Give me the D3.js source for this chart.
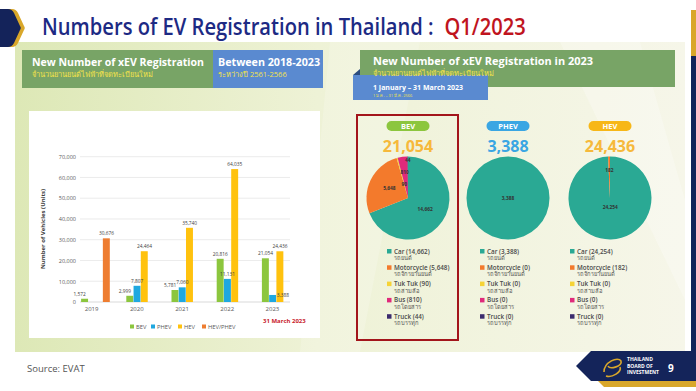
<!DOCTYPE html>
<html>
<head>
<meta charset="utf-8">
<script src="https://cdn.jsdelivr.net/npm/d3@7"></script>
<style>
  body { margin: 0; background: #fff; }
  svg { display: block; font-family: "Open Sans", "Noto Sans", sans-serif; }
</style>
</head>
<body>
<div id="chart"></div>
<script>
    // ---------- data ----------
    var years = ["2019", "2020", "2021", "2022", "2023"];
    var seriesNames = ["BEV", "PHEV", "HEV", "HEV/PHEV"];
    var bevByYear = [1572, 2999, 5781, 20816, 21054];
    var phevByYear = [0, 7807, 7060, 11131, 3388];
    var hevByYear = [0, 24464, 35740, 64035, 24436];
    var hevPhevByYear = [30676, 0, 0, 0, 0];
    var yTicks = [0, 10000, 20000, 30000, 40000, 50000, 60000, 70000];

    var pieTypes = ["BEV", "PHEV", "HEV"];
    var pieTotals = [21054, 3388, 24436];
    var vehicleTypes = ["Car", "Motorcycle", "Tuk Tuk", "Bus", "Truck"];
    var vehicleTypesThai = ["รถยนต์", "รถจักรยานยนต์", "รถสามล้อ", "รถโดยสาร", "รถบรรทุก"];
    var bevVehicles = [14662, 5648, 90, 810, 44];
    var phevVehicles = [3388, 0, 0, 0, 0];
    var hevVehicles = [24254, 182, 0, 0, 0];

    var seriesColors = {"BEV": "#8cc63e", "PHEV": "#1fa8e0", "HEV": "#ffc20e", "HEV/PHEV": "#ee7d31"};
    var vehicleColors = ["#2aa994", "#f37a2c", "#f6d336", "#e02a7b", "#3b2b6e"];
    var pieColors = {"BEV": "#8cc63e", "PHEV": "#3aa6e3", "HEV": "#f7b718"};
    var totalColors = {"BEV": "#f6b93b", "PHEV": "#3aa6e3", "HEV": "#f6b93b"};

    var width = 696, height = 391;
    var fmt = d3.format(",");

    var svg = d3.select("#chart").append("svg")
        .attr("width", width).attr("height", height);

    var defs = svg.append("defs");
    var grad = defs.append("linearGradient").attr("id", "panelGrad")
        .attr("x1", 0).attr("y1", 0).attr("x2", 1).attr("y2", 0);
    grad.append("stop").attr("offset", "0%").attr("stop-color", "#dde8b6");
    grad.append("stop").attr("offset", "45%").attr("stop-color", "#eef2d6");
    grad.append("stop").attr("offset", "100%").attr("stop-color", "#f6f6e9");

    // ---------- slide frame ----------
    svg.append("rect").attr("x", 15).attr("y", 42).attr("width", 670).attr("height", 310)
        .attr("fill", "url(#panelGrad)");
    // soft diagonal light bands
    svg.append("path").attr("d", "M330,42 L420,42 L360,352 L300,352 Z").attr("fill", "#ffffff").attr("opacity", 0.18);
    svg.append("path").attr("d", "M560,42 L640,42 L685,200 L685,300 Z").attr("fill", "#ffffff").attr("opacity", 0.25);

    // right navy edge
    svg.append("rect").attr("x", 691).attr("y", 10).attr("width", 5).attr("height", 46).attr("fill", "#d9a72a");
    svg.append("rect").attr("x", 691).attr("y", 56).attr("width", 5).attr("height", 296).attr("fill", "#12245a");

    // chevron marker
    svg.append("path")
        .attr("d", "M-6,9 L12,9 Q16,9 18,13 L24,26 Q25.5,28 24,30 L18,43 Q16,47 12,47 L-6,47 Z")
        .attr("fill", "#d9a72a");
    svg.append("path")
        .attr("d", "M-6,9 L8,9 Q12,9 14,13 L20,26 Q21.5,28 20,30 L14,43 Q12,47 8,47 L-6,47 Z")
        .attr("fill", "#14235a");

    // title: drawn at natural width, then squeezed horizontally to the slide's narrow face
    var titleG = svg.append("g");
    var title = titleG.append("text").attr("x", 0).attr("y", 0)
        .attr("font-size", 24).attr("font-weight", 600).attr("fill", "#1d2a84");
    title.append("tspan").text("Numbers of EV Registration in Thailand :");
    title.append("tspan").attr("dx", 13).attr("fill", "#c0141e").text("Q1/2023");
    var titleW = title.node().getComputedTextLength() + 13;
    titleG.attr("transform", "translate(42,35) scale(" + (484 / titleW) + ",1)");

    // ---------- headers ----------
    svg.append("rect").attr("x", 22).attr("y", 50).attr("width", 191).attr("height", 38).attr("fill", "#78a466");
    svg.append("rect").attr("x", 213).attr("y", 50).attr("width", 110).attr("height", 38).attr("fill", "#5a8ad0");
    svg.append("text").attr("x", 32).attr("y", 66).attr("font-size", 10.5).attr("font-weight", 700)
        .attr("fill", "#fff").attr("textLength", 172).attr("lengthAdjust", "spacingAndGlyphs")
        .text("New Number of xEV Registration");
    svg.append("text").attr("x", 32).attr("y", 77).attr("font-size", 7.5).attr("fill", "#f3e24a")
        .text("จำนวนยานยนต์ไฟฟ้าที่จดทะเบียนใหม่");
    svg.append("text").attr("x", 218).attr("y", 66).attr("font-size", 10.5).attr("font-weight", 700)
        .attr("fill", "#fff").attr("textLength", 102).attr("lengthAdjust", "spacingAndGlyphs")
        .text("Between 2018-2023");
    svg.append("text").attr("x", 218).attr("y", 77).attr("font-size", 7.5).attr("fill", "#f3e24a")
        .text("ระหว่างปี 2561-2566");

    svg.append("rect").attr("x", 360).attr("y", 50).attr("width", 315).attr("height", 37).attr("fill", "#78a466");
    svg.append("path").attr("d", "M353,75 L360,69 L360,75 Z").attr("fill", "#2b4c7e");
    svg.append("rect").attr("x", 353).attr("y", 75).attr("width", 135).attr("height", 25).attr("fill", "#5a8ad0");
    svg.append("text").attr("x", 373).attr("y", 65).attr("font-size", 10.5).attr("font-weight", 700)
        .attr("fill", "#fff").attr("textLength", 220).attr("lengthAdjust", "spacingAndGlyphs")
        .text("New Number of xEV Registration in 2023");
    svg.append("text").attr("x", 373).attr("y", 76).attr("font-size", 7.5).attr("fill", "#f3e24a")
        .text("จำนวนยานยนต์ไฟฟ้าที่จดทะเบียนใหม่");
    svg.append("text").attr("x", 373).attr("y", 90).attr("font-size", 6.5).attr("font-weight", 700)
        .attr("fill", "#fff").attr("textLength", 90).attr("lengthAdjust", "spacingAndGlyphs")
        .text("1 January – 31 March 2023");
    svg.append("text").attr("x", 373).attr("y", 96.5).attr("font-size", 4).attr("fill", "#f3e24a")
        .text("1 ม.ค. – 31 มี.ค. 2566");

    // ---------- bar chart ----------
    svg.append("rect").attr("x", 29).attr("y", 111).attr("width", 291).attr("height", 227).attr("fill", "#fff");

    var seriesValues = {"BEV": bevByYear, "PHEV": phevByYear, "HEV": hevByYear, "HEV/PHEV": hevPhevByYear};

    var y = d3.scaleLinear().domain([0, 70000]).range([302, 156.7]);
    var x0 = d3.scaleBand().domain(years).range([73, 299]);
    var x1 = d3.scaleBand().domain(seriesNames).range([0, 29]);
    var groupLeft = function (yr) { return x0(yr) + x0.bandwidth() / 2 - 14.5; };

    var bar = svg.append("g");
    bar.append("g").selectAll("line").data(yTicks).enter().append("line")
        .attr("x1", 80).attr("x2", 290)
        .attr("y1", function (d) { return y(d); }).attr("y2", function (d) { return y(d); })
        .attr("stroke", function (d) { return d === 0 ? "#c8c8c8" : "#e3e3e3"; }).attr("stroke-width", 0.7);

    var yAxis = bar.append("g").attr("transform", "translate(76,0)")
        .call(d3.axisLeft(y).tickValues(yTicks).tickFormat(fmt).tickSize(0).tickPadding(0));
    yAxis.select(".domain").remove();
    yAxis.selectAll("text").attr("font-size", 5.5).attr("fill", "#595959").attr("font-family", "Open Sans, sans-serif");

    var xAxis = bar.append("g").attr("transform", "translate(-4,305)")
        .call(d3.axisBottom(x0).tickSize(0).tickPadding(2));
    xAxis.select(".domain").remove();
    xAxis.selectAll("text").attr("font-size", 6).attr("fill", "#595959").attr("font-family", "Open Sans, sans-serif");

    bar.append("text").attr("transform", "translate(45,229) rotate(-90)")
        .attr("text-anchor", "middle").attr("font-size", 6).attr("font-weight", 700).attr("fill", "#404040")
        .text("Number of Vehicles (Units)");

    var barData = [];
    years.forEach(function (yr, i) {
        seriesNames.forEach(function (s) {
            barData.push({year: yr, series: s, value: seriesValues[s][i]});
        });
    });

    bar.append("g").selectAll("rect").data(barData.filter(function (d) { return d.value > 0; }))
        .enter().append("rect")
        .attr("x", function (d) { return groupLeft(d.year) + x1(d.series); })
        .attr("width", x1.bandwidth() - 0.3)
        .attr("y", function (d) { return y(d.value); })
        .attr("height", function (d) { return y(0) - y(d.value); })
        .attr("fill", function (d) { return seriesColors[d.series]; });

    bar.append("g").selectAll("text").data(barData.filter(function (d) { return d.value > 0; }))
        .enter().append("text")
        .attr("x", function (d) {
            var cx = groupLeft(d.year) + x1(d.series) + x1.bandwidth() / 2;
            // the small 2023 PHEV label sits to the right in the original
            if (d.year === "2023" && d.series === "PHEV") return cx + 10;
            if (d.series === "BEV" && d.value < 10000) return cx - 5;
            return cx;
        })
        .attr("y", function (d) {
            if (d.year === "2023" && d.series === "PHEV") return y(d.value) + 2;
            return y(d.value) - 3;
        })
        .attr("text-anchor", "middle").attr("font-size", 4.8).attr("fill", "#404040")
        .text(function (d) { return fmt(d.value); });

    bar.append("text").attr("x", 263).attr("y", 323).attr("font-size", 6).attr("font-weight", 700)
        .attr("fill", "#c8202a").text("31 March 2023");

    var legend = bar.append("g").selectAll("g").data(seriesNames).enter().append("g")
        .attr("transform", function (d, i) { return "translate(" + [130, 151, 178, 202][i] + ",328)"; });
    legend.append("rect").attr("y", -3.5).attr("width", 4).attr("height", 4)
        .attr("fill", function (d) { return seriesColors[d]; });
    legend.append("text").attr("x", 6).attr("y", 0.5).attr("font-size", 5.8).attr("fill", "#595959")
        .text(function (d) { return d; });

    // ---------- pies ----------
    var pieValues = {"BEV": bevVehicles, "PHEV": phevVehicles, "HEV": hevVehicles};
    var pieCenters = [408, 508, 610];
    var r = 41.5;
    var pie = d3.pie().sort(null);
    var arc = d3.arc().innerRadius(0).outerRadius(r);

    svg.append("rect").attr("x", 357).attr("y", 115).attr("width", 101).attr("height", 225)
        .attr("fill", "none").attr("stroke", "#a3151b").attr("stroke-width", 2);

    pieTypes.forEach(function (t, k) {
        var cx = pieCenters[k];
        var g = svg.append("g");
        g.append("rect").attr("x", cx - 21.5).attr("y", 121).attr("width", 43).attr("height", 10)
            .attr("rx", 5).attr("fill", pieColors[t]);
        g.append("text").attr("x", cx).attr("y", 129).attr("text-anchor", "middle")
            .attr("font-size", 7.5).attr("font-weight", 700).attr("fill", "#fff").text(t);
        g.append("text").attr("x", cx).attr("y", 152).attr("text-anchor", "middle")
            .attr("font-size", 16).attr("font-weight", 700).attr("fill", totalColors[t])
            .text(fmt(pieTotals[k]));

        var vals = pieValues[t];
        var total = d3.sum(vals);
        var arcs = pie(vals);
        var pg = g.append("g").attr("transform", "translate(" + cx + ",198)");
        pg.selectAll("path").data(arcs.filter(function (a) { return a.value > 0; })).enter().append("path")
            .attr("d", arc)
            .attr("fill", function (a) { return vehicleColors[a.index]; });

        var small = arcs.filter(function (a) { return a.value > 0 && a.value / total < 0.05; });
        pg.selectAll("text").data(arcs.filter(function (a) { return a.value > 0; })).enter().append("text")
            .attr("transform", function (a) {
                var share = a.value / total, rr;
                if (share > 0.999) rr = 0;
                else if (share > 0.9) rr = 0.22 * r;
                else if (share >= 0.05) rr = 0.5 * r;
                else if (small.length === 1) rr = 0.67 * r;
                else rr = 0.34 * r + 0.28 * r * small.indexOf(a);
                var mid = (a.startAngle + a.endAngle) / 2;
                return "translate(" + (Math.sin(mid) * rr) + "," + (-Math.cos(mid) * rr + 1.5) + ")";
            })
            .attr("text-anchor", "middle").attr("font-size", 4.8).attr("font-weight", 700).attr("fill", "#333")
            .text(function (a) { return fmt(a.value); });

        var lx = [387, 480, 570][k];
        var rows = g.append("g").selectAll("g").data(vehicleTypes).enter().append("g")
            .attr("transform", function (d, i) { return "translate(" + lx + "," + (253 + i * 16.3) + ")"; });
        rows.append("rect").attr("y", -4).attr("width", 4.5).attr("height", 4.5)
            .attr("fill", function (d, i) { return vehicleColors[i]; });
        rows.append("text").attr("x", 7).attr("y", 0.5).attr("font-size", 6.3).attr("font-weight", 600)
            .attr("fill", "#4a4a4a")
            .text(function (d, i) { return d + " (" + fmt(vals[i]) + ")"; });
        rows.append("text").attr("x", 7).attr("y", 7.2).attr("font-size", 5.8).attr("fill", "#555")
            .text(function (d, i) { return vehicleTypesThai[i]; });
    });

    // ---------- footer ----------
    svg.append("text").attr("x", 27).attr("y", 372).attr("font-size", 9.5).attr("fill", "#555")
        .text("Source: EVAT");
    svg.append("path").attr("d", "M598,381 L696,381 L696,387 L604,387 Z").attr("fill", "#d9a72a");
    svg.append("path").attr("d", "M576,366 L591,351 L696,351 L696,381 L591,381 Z").attr("fill", "#14245a");
    svg.append("path").attr("d", "M604,372 C604,362 618,356 621,361 C623,366 610,370 608,366 M606,376 C612,378 622,372 620,367")
        .attr("fill", "none").attr("stroke", "#d9a72a").attr("stroke-width", 1.6);
    ["THAILAND", "BOARD OF", "INVESTMENT"].forEach(function (s, i) {
        svg.append("text").attr("x", 627).attr("y", 361 + i * 6.5).attr("font-size", 5)
            .attr("font-weight", 700).attr("fill", "#fff").text(s);
    });
    svg.append("text").attr("x", 668).attr("y", 372).attr("font-size", 10).attr("font-weight", 700)
        .attr("fill", "#fff").text("9");
</script>
</body>
</html>
